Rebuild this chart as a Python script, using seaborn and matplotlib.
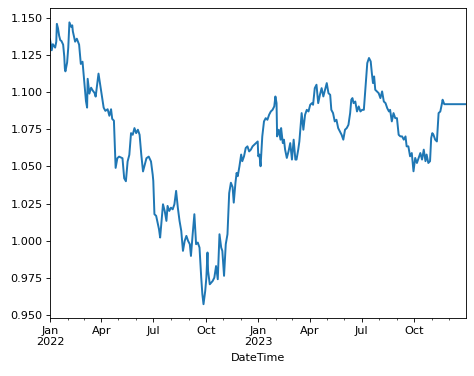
import matplotlib
matplotlib.use("Agg")
import matplotlib.pyplot as plt
import matplotlib.dates as mdates
import matplotlib.ticker as mticker
import pandas as pd
import seaborn as sns

# daily rate (forward filled at the end)
dates_2022 = [
    "01-01", "01-04", "01-06", "01-10", "01-12", "01-13", "01-15", "01-17", "01-19", "01-21",
    "01-24", "01-26", "01-27", "01-28", "01-31", "02-02", "02-04", "02-07", "02-09", "02-10",
    "02-14", "02-17", "02-21", "02-24", "02-27", "03-02", "03-05", "03-07", "03-08", "03-11",
    "03-14", "03-17", "03-20", "03-22", "03-27", "03-31", "04-05", "04-08", "04-12", "04-15",
    "04-18", "04-20", "04-23", "04-26", "04-29", "05-02", "05-08", "05-11", "05-14", "05-17",
    "05-20", "05-23", "05-26", "05-29", "06-01", "06-04", "06-07", "06-10", "06-13", "06-16",
    "06-19", "06-23", "06-27", "06-30", "07-01", "07-03", "07-06", "07-11", "07-13", "07-18",
    "07-21", "07-24", "07-26", "07-29", "08-01", "08-04", "08-07", "08-10", "08-13", "08-16",
    "08-19", "08-22", "08-25", "08-28", "08-31", "09-03", "09-05", "09-08", "09-11", "09-14",
    "09-17", "09-20", "09-23", "09-25", "09-27", "09-30", "10-02", "10-04", "10-05", "10-08",
    "10-13", "10-16", "10-19", "10-22", "10-25", "10-28", "10-30", "11-02", "11-05", "11-08",
    "11-11", "11-14", "11-17", "11-19", "11-22", "11-24", "11-26", "11-29", "12-02", "12-04",
    "12-07", "12-10", "12-13", "12-16", "12-19", "12-22", "12-28", "12-31",
]
rate_2022 = [
    1.1356, 1.1282, 1.1323, 1.1300, 1.1340, 1.1460, 1.1430, 1.1380, 1.1350, 1.1345,
    1.1320, 1.1240, 1.1160, 1.1140, 1.1200, 1.1300, 1.1470, 1.1440, 1.1450, 1.1410,
    1.1340, 1.1360, 1.1320, 1.1190, 1.1205, 1.1076, 1.0940, 1.0896, 1.1090, 1.0990,
    1.1030, 1.1010, 1.0995, 1.0970, 1.1125, 1.1024, 1.0896, 1.0874, 1.0885, 1.0841,
    1.0885, 1.0820, 1.0808, 1.0490, 1.0555, 1.0566, 1.0555, 1.0420, 1.0400, 1.0533,
    1.0578, 1.0724, 1.0713, 1.0758, 1.0724, 1.0747, 1.0713, 1.0578, 1.0466, 1.0511,
    1.0555, 1.0566, 1.0533, 1.0443, 1.0402, 1.0178, 1.0167, 1.0077, 1.0021, 1.0245,
    1.0200, 1.0133, 1.0234, 1.0200, 1.0222, 1.0211, 1.0245, 1.0335, 1.0222, 1.0133,
    1.0066, 0.9931, 0.9998, 1.0032, 0.9998, 0.9976, 0.9897, 1.0043, 1.0178, 0.9976,
    0.9987, 0.9953, 0.9751, 0.9639, 0.9572, 0.9661, 0.9751, 0.9920, 0.9796, 0.9706,
    0.9728, 0.9751, 0.9829, 0.9740, 1.0043, 0.9953, 0.9931, 0.9763, 0.9976, 1.0043,
    1.0320, 1.0390, 1.0360, 1.0256, 1.0390, 1.0456, 1.0434, 1.0501, 1.0580, 1.0535,
    1.0568, 1.0624, 1.0635, 1.0601, 1.0613, 1.0635, 1.0657, 1.0668,
]
dates_2023 = [
    "01-01", "01-03", "01-05", "01-08", "01-11", "01-14", "01-17", "01-20", "01-23", "01-26",
    "01-29", "01-31", "02-02", "02-03", "02-06", "02-09", "02-10", "02-13", "02-15", "02-17",
    "02-20", "02-23", "02-26", "03-01", "03-04", "03-07", "03-09", "03-12", "03-14", "03-18",
    "03-21", "03-24", "03-27", "03-30", "04-02", "04-05", "04-07", "04-10", "04-13", "04-16",
    "04-19", "04-22", "04-25", "04-28", "05-01", "05-04", "05-07", "05-09", "05-12", "05-15",
    "05-18", "05-21", "05-24", "05-27", "05-30", "06-02", "06-05", "06-08", "06-11", "06-13",
    "06-15", "06-17", "06-20", "06-23", "06-26", "06-29", "07-02", "07-05", "07-08", "07-11",
    "07-14", "07-17", "07-19", "07-21", "07-23", "07-25", "07-28", "07-31", "08-03", "08-06",
    "08-09", "08-12", "08-15", "08-18", "08-20", "08-23", "08-26", "08-29", "09-01", "09-04",
    "09-07", "09-10", "09-13", "09-16", "09-18", "09-21", "09-24", "09-27", "09-30", "10-03",
    "10-06", "10-09", "10-12", "10-15", "10-18", "10-21", "10-23", "10-26", "10-29", "10-31",
    "11-02", "11-04", "11-07", "11-10", "11-13", "11-16", "11-19", "11-20", "11-23", "12-31",
]
rate_2023 = [
    1.0568, 1.0580, 1.0501, 1.0702, 1.0803, 1.0825, 1.0814, 1.0848, 1.0870, 1.0881,
    1.0904, 1.0971, 1.0926, 1.0702, 1.0747, 1.0680, 1.0758, 1.0657, 1.0680, 1.0613,
    1.0557, 1.0601, 1.0657, 1.0546, 1.0680, 1.0546, 1.0546, 1.0613, 1.0668, 1.0859,
    1.0747, 1.0848, 1.0881, 1.0870, 1.0915, 1.0926, 1.0915, 1.1027, 1.1050, 1.0926,
    1.0982, 1.1027, 1.0971, 1.1016, 1.1061, 1.0993, 1.0982, 1.0881, 1.0859, 1.0803,
    1.0814, 1.0758, 1.0735, 1.0713, 1.0680, 1.0747, 1.0758, 1.0780, 1.0859, 1.0949,
    1.0960, 1.0926, 1.0937, 1.0870, 1.0904, 1.0870, 1.0881, 1.0881, 1.1039, 1.1196,
    1.1230, 1.1207, 1.1129, 1.1061, 1.1106, 1.1016, 1.1005, 1.0993, 1.0960, 1.1005,
    1.0937, 1.0926, 1.0892, 1.0870, 1.0881, 1.0803, 1.0859, 1.0825, 1.0825, 1.0713,
    1.0702, 1.0702, 1.0680, 1.0702, 1.0635, 1.0635, 1.0568, 1.0590, 1.0467, 1.0557,
    1.0523, 1.0557, 1.0590, 1.0546, 1.0613, 1.0535, 1.0580, 1.0523, 1.0535, 1.0691,
    1.0724, 1.0713, 1.0680, 1.0668, 1.0859, 1.0870, 1.0926, 1.0949, 1.0919, 1.0919,
]

df = pd.DataFrame({
    "DateTime": pd.to_datetime(["2022-" + d for d in dates_2022] + ["2023-" + d for d in dates_2023]),
    "rate": rate_2022 + rate_2023,
})

# reference looks like a default pandas plot shrunk down, so render at a lower dpi
DPI = 78
plt.rcParams["font.size"] = 10.4
fig = plt.figure(figsize=(474 / DPI, 376 / DPI), dpi=DPI)
ax = fig.add_axes([0.1055, 0.1535, 0.8776, 0.8245])

sns.lineplot(data=df, x="DateTime", y="rate", color="#1f77b4", linewidth=1.8, ax=ax)

ax.set_xlim(pd.Timestamp("2022-01-01"), pd.Timestamp("2023-12-31"))
ax.xaxis.set_major_locator(mdates.MonthLocator(bymonth=[1, 4, 7, 10]))
ax.xaxis.set_minor_locator(mdates.MonthLocator())

def quarter_label(x, pos):
    d = mdates.num2date(x)
    return d.strftime("%b\n%Y") if d.month == 1 else d.strftime("%b")

ax.xaxis.set_major_formatter(mticker.FuncFormatter(quarter_label))
ax.xaxis.set_minor_formatter(mticker.NullFormatter())
for lab in ax.get_xticklabels():
    lab.set_ha("center")
ax.set_xlabel("DateTime", labelpad=5)
ax.set_ylabel("")

fig.savefig("out.png", dpi=DPI)
